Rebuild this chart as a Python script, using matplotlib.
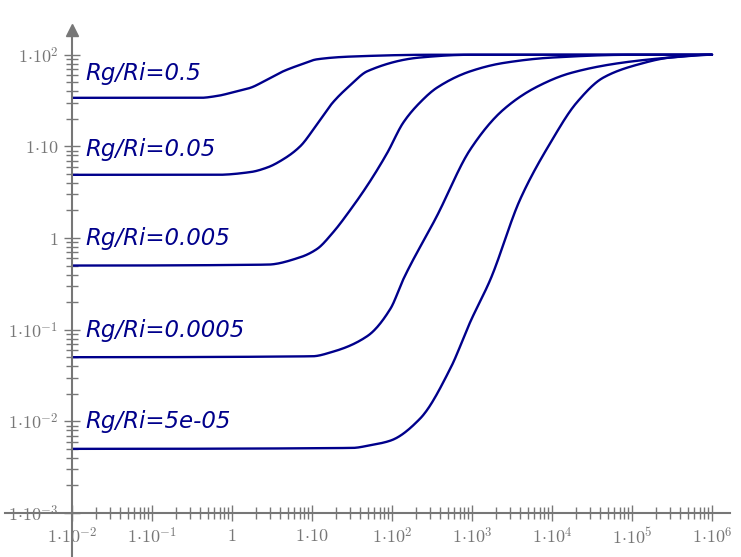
import numpy as np
import matplotlib
matplotlib.use("Agg")
import matplotlib.pyplot as plt
from matplotlib.ticker import FixedLocator, NullFormatter

plt.rcParams['mathtext.fontset'] = 'cm'

ratios = ["0.5", "0.05", "0.005", "0.0005", "5e-05"]
# log10(x), log10(y)
c1_lx = [-2, -0.40, -0.19, 0.01, 0.23, 0.44, 0.64, 0.85, 1.06, 1.48, 2.5, 6.0]
c1_ly = [1.53, 1.53, 1.55, 1.59, 1.64, 1.73, 1.82, 1.89, 1.95, 1.98, 2.0, 2.0]
c2_lx = [-2, -0.19, 0.23, 0.44, 0.64, 0.85, 1.06, 1.26, 1.48, 1.69, 2.35, 2.98, 6.0]
c2_ly = [0.69, 0.69, 0.72, 0.77, 0.86, 1.0, 1.24, 1.48, 1.67, 1.82, 1.97, 2.0, 2.0]
c3_lx = [-2, 0.44, 0.85, 1.06, 1.26, 1.48, 1.71, 1.94, 2.14, 2.35, 2.56, 2.98, 3.39, 4.01, 5.0, 6.0]
c3_ly = [-0.30, -0.29, -0.21, -0.12, 0.06, 0.31, 0.60, 0.93, 1.26, 1.48, 1.64, 1.82, 1.91, 1.97, 2.0, 2.0]
c4_lx = [-2, 1.0, 1.26, 1.69, 1.98, 2.14, 2.56, 2.98, 3.39, 3.81, 4.23, 4.85, 5.48, 6.0]
c4_ly = [-1.30, -1.29, -1.24, -1.07, -0.77, -0.45, 0.24, 0.97, 1.40, 1.65, 1.80, 1.91, 1.97, 2.0]
c5_lx = [-2, 1.5, 1.73, 1.98, 2.35, 2.73, 2.98, 3.23, 3.60, 3.98, 4.31, 4.64, 5.06, 5.48, 6.0]
c5_ly = [-2.30, -2.29, -2.26, -2.21, -1.97, -1.42, -0.91, -0.45, 0.42, 1.04, 1.48, 1.75, 1.89, 1.97, 2.0]
label_ly = [1.80, 0.97, -0.01, -1.01, -2.0]

curves = [(c1_lx, c1_ly), (c2_lx, c2_ly), (c3_lx, c3_ly), (c4_lx, c4_ly), (c5_lx, c5_ly)]


def pchip_draw(x, y, n=30):
    """Monotone cubic path through the read points (for a smooth stroke only)."""
    x = np.asarray(x, float); y = np.asarray(y, float)
    h = np.diff(x); d = np.diff(y) / h
    m = np.zeros_like(y)
    for i in range(1, len(x) - 1):
        if d[i-1] * d[i] > 0:
            w1 = 2*h[i] + h[i-1]; w2 = h[i] + 2*h[i-1]
            m[i] = (w1 + w2) / (w1/d[i-1] + w2/d[i])
    xs, ys = [], []
    for i in range(len(h)):
        t = np.linspace(0, 1, n, endpoint=False)
        h00 = 2*t**3 - 3*t**2 + 1; h10 = t**3 - 2*t**2 + t
        h01 = -2*t**3 + 3*t**2; h11 = t**3 - t**2
        xs.append(x[i] + t*h[i])
        ys.append(h00*y[i] + h10*h[i]*m[i] + h01*y[i+1] + h11*h[i]*m[i+1])
    xs.append([x[-1]]); ys.append([y[-1]])
    return np.concatenate(xs), np.concatenate(ys)


fig = plt.figure(figsize=(7.41, 5.57), dpi=100)
ax = fig.add_axes([5/741, 0, 725/741, 527/557])
ax.set_xscale('log'); ax.set_yscale('log')
ax.set_xlim(10**-2.84, 10**6.225)
ax.set_ylim(10**-3.48, 10**2.27)

col = '#00008b'
for (lx, ly) in curves:
    sx, sy = pchip_draw(lx, ly)
    ax.plot(10**sx, 10**sy, color=col, lw=1.7, solid_capstyle='round')
for r, ly in zip(ratios, label_ly):
    ax.text(10**-1.84, 10**ly, f"Rg/Ri={r}", color=col, fontsize=16.5, style='italic',
            va='center', ha='left')

gray = '#777777'
for s in ['top', 'right']:
    ax.spines[s].set_visible(False)
ax.spines['left'].set_position(('data', 1e-2))
ax.spines['bottom'].set_position(('data', 1e-3))
for s in ['left', 'bottom']:
    ax.spines[s].set_color(gray); ax.spines[s].set_linewidth(1.5)
ax.plot([1e-2], [10**2.27], marker='^', color=gray, ms=9, clip_on=False)

xmaj = [10.0**k for k in range(-2, 7)]
xmin = [m * 10.0**k for k in range(-2, 6) for m in range(2, 10)]
ymaj = [10.0**k for k in range(-3, 3)]
ymin = [m * 10.0**k for k in range(-3, 2) for m in range(2, 10)]
def lab(k):
    if k == 0: return '$1$'
    if k == 1: return r'$1{\cdot}10$'
    return r'$1{\cdot}10^{%d}$' % k
ax.xaxis.set_major_locator(FixedLocator(xmaj))
ax.xaxis.set_minor_locator(FixedLocator(xmin))
ax.set_xticklabels([lab(k) for k in range(-2, 7)])
ax.yaxis.set_major_locator(FixedLocator(ymaj))
ax.yaxis.set_minor_locator(FixedLocator(ymin))
ax.set_yticklabels([lab(k) for k in range(-3, 3)])
ax.xaxis.set_minor_formatter(NullFormatter()); ax.yaxis.set_minor_formatter(NullFormatter())
ax.tick_params(which='major', direction='inout', length=12, width=1, color=gray,
               labelcolor=gray, labelsize=13, pad=4)
ax.tick_params(which='minor', direction='inout', length=8, width=1, color=gray)

fig.savefig('out.png', dpi=100)
